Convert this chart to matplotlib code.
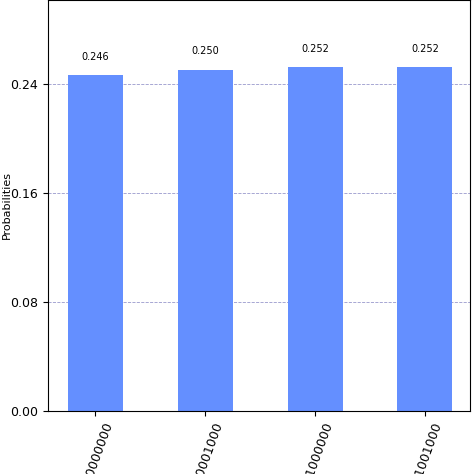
import matplotlib
matplotlib.use("Agg")
import matplotlib.pyplot as plt

labels = ["0000000000", "0000001000", "0001000000", "0001001000"]
values = [0.246, 0.250, 0.252, 0.252]
yticks = [0.00, 0.08, 0.16, 0.24]

fig = plt.figure(figsize=(4.74, 4.74), dpi=100)
ax = fig.add_axes([48/474, 1-411/474, 422/474, 411/474 + 0.001])
x = range(len(labels))
ax.bar(x, values, width=0.5, color="#648fff", zorder=2)
for xi, v in zip(x, values):
    ax.text(xi, v + 0.01, f"{v:.3f}", ha="center", va="bottom", fontsize=7)
ax.set_xticks(list(x))
ax.set_xticklabels(labels, rotation=70, fontsize=9)
ax.set_yticks(yticks)
ax.set_yticklabels([f"{t:.2f}" for t in yticks], fontsize=9)
ax.set_ylim(0, 0.3017)
ax.set_xlim(-0.43, 3.41)
ax.set_ylabel("Probabilities", fontsize=8)
ax.yaxis.set_label_coords(-0.085, 0.5)
ax.yaxis.grid(True, linestyle="--", color="#9999cc", linewidth=0.6, zorder=0)
fig.savefig("out.png", dpi=100)
